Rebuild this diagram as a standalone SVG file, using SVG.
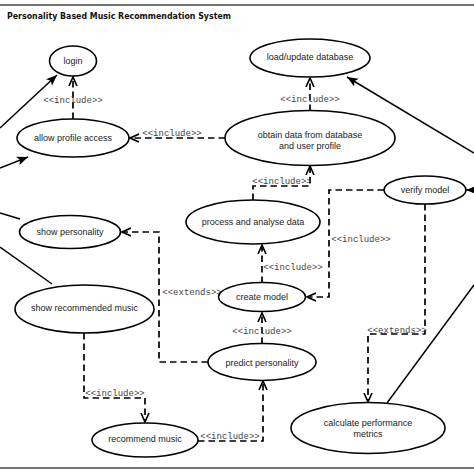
<svg xmlns="http://www.w3.org/2000/svg" width="474" height="474" viewBox="0 0 474 474">
<defs>
<style>
.uc{fill:#fff;stroke:#000;stroke-width:1.6}
.t{font-family:"Liberation Sans",Arial,sans-serif;font-size:9px;fill:#222;text-anchor:middle}
.st{font-family:"Liberation Mono","Courier New",monospace;font-size:9px;fill:#444;text-anchor:middle}
.d{fill:none;stroke:#000;stroke-width:1.7;stroke-dasharray:6.5,4}
.s{fill:none;stroke:#000;stroke-width:1.5}
</style>
<marker id="open" markerUnits="userSpaceOnUse" viewBox="0 0 10 10" refX="9" refY="5" markerWidth="10" markerHeight="10" orient="auto">
<path d="M0,1 L9,5 L0,9" fill="none" stroke="#000" stroke-width="1.6"/>
</marker>
<marker id="fill" markerUnits="userSpaceOnUse" viewBox="0 0 12 10" refX="11" refY="5" markerWidth="12" markerHeight="10" orient="auto">
<path d="M0,0.5 L11,5 L0,9.5 L2.5,5 z" fill="#000"/>
</marker>
</defs>
<rect x="0" y="0" width="474" height="474" fill="#fff"/>
<line x1="0" y1="5" x2="474" y2="5" stroke="#444" stroke-width="1.6"/>
<line x1="0" y1="468" x2="474" y2="468" stroke="#444" stroke-width="1.6"/>
<text x="7" y="19" font-family="'DejaVu Sans',Verdana,sans-serif" font-weight="bold" font-size="9.5" fill="#111" textLength="224" lengthAdjust="spacingAndGlyphs">Personality Based Music Recommendation System</text>

<g id="connectors">
<line class="s" x1="0" y1="128" x2="57" y2="75" marker-end="url(#fill)"/>
<line class="s" x1="0" y1="168" x2="28" y2="157" marker-end="url(#fill)"/>
<line class="s" x1="0" y1="213" x2="20" y2="219"/>
<line class="s" x1="0" y1="247" x2="52" y2="284"/>
<line class="s" x1="474" y1="153" x2="347" y2="77" marker-end="url(#fill)"/>
<line class="s" x1="480" y1="190" x2="466" y2="190" marker-end="url(#fill)"/>
<line class="s" x1="387" y1="403" x2="474" y2="285"/>
<path class="d" d="M73,119 L73,77" marker-end="url(#open)"/>
<path class="d" d="M225,138 L130,138" marker-end="url(#open)"/>
<path class="d" d="M310,111 L310,78" marker-end="url(#open)"/>
<path class="d" d="M253,200 L253,186 L310,186 L310,166" marker-end="url(#open)"/>
<path class="d" d="M262,283 L262,245" marker-end="url(#open)"/>
<path class="d" d="M384,190 L329,190 L329,297 L307,297" marker-end="url(#open)"/>
<path class="d" d="M208,362 L159,362 L159,232 L122,232" marker-end="url(#open)"/>
<path class="d" d="M262,344 L262,313" marker-end="url(#open)"/>
<path class="d" d="M198,441 L263,441 L263,381" marker-end="url(#open)"/>
<path class="d" d="M84,333 L84,398 L145,398 L145,422" marker-end="url(#open)"/>
<path class="d" d="M425,204 L425,334 L368,334 L368,402" marker-end="url(#open)"/>
<text class="st" x="73" y="103">&lt;&lt;include&gt;&gt;</text>
<text class="st" x="172" y="136">&lt;&lt;include&gt;&gt;</text>
<text class="st" x="310" y="102">&lt;&lt;include&gt;&gt;</text>
<text class="st" x="282" y="184">&lt;&lt;include&gt;&gt;</text>
<text class="st" x="293" y="270">&lt;&lt;include&gt;&gt;</text>
<text class="st" x="361" y="242">&lt;&lt;include&gt;&gt;</text>
<text class="st" x="192" y="295">&lt;&lt;extends&gt;&gt;</text>
<text class="st" x="262" y="334">&lt;&lt;include&gt;&gt;</text>
<text class="st" x="230" y="439">&lt;&lt;include&gt;&gt;</text>
<text class="st" x="115" y="396">&lt;&lt;include&gt;&gt;</text>
<text class="st" x="397" y="333">&lt;&lt;extends&gt;&gt;</text>
</g>

<g id="login"><ellipse class="uc" cx="73" cy="61" rx="23.5" ry="15"/><text class="t" x="73" y="64">login</text></g>
<g id="allow-profile-access"><ellipse class="uc" cx="73" cy="138" rx="56" ry="19"/><text class="t" x="73" y="141">allow profile access</text></g>
<g id="load-update-database"><ellipse class="uc" cx="310" cy="58" rx="60" ry="19"/><text class="t" x="310" y="60">load/update database</text></g>
<g id="obtain-data"><ellipse class="uc" cx="310" cy="138" rx="85" ry="27.5"/><text class="t" x="310" y="138">obtain data from database</text><text class="t" x="310" y="149">and user profile</text></g>
<g id="verify-model"><ellipse class="uc" cx="425" cy="190" rx="41" ry="14"/><text class="t" x="425" y="193">verify model</text></g>
<g id="process-analyse"><ellipse class="uc" cx="253" cy="222" rx="67" ry="22"/><text class="t" x="253" y="225">process and analyse data</text></g>
<g id="show-personality"><ellipse class="uc" cx="70" cy="232" rx="50.5" ry="16.5"/><text class="t" x="70" y="235">show personality</text></g>
<g id="show-recommended-music"><ellipse class="uc" cx="84.5" cy="309" rx="69.5" ry="24"/><text class="t" x="84.5" y="311">show recommended music</text></g>
<g id="create-model"><ellipse class="uc" cx="262" cy="297" rx="43.5" ry="14.5"/><text class="t" x="262" y="300">create model</text></g>
<g id="predict-personality"><ellipse class="uc" cx="262" cy="362" rx="54" ry="18.5"/><text class="t" x="262" y="366">predict personality</text></g>
<g id="recommend-music"><ellipse class="uc" cx="145" cy="440" rx="53" ry="17"/><text class="t" x="145" y="442">recommend music</text></g>
<g id="calculate-metrics"><ellipse class="uc" cx="368" cy="428" rx="77" ry="25.5"/><text class="t" x="368" y="426">calculate performance</text><text class="t" x="368" y="437">metrics</text></g>
</svg>
